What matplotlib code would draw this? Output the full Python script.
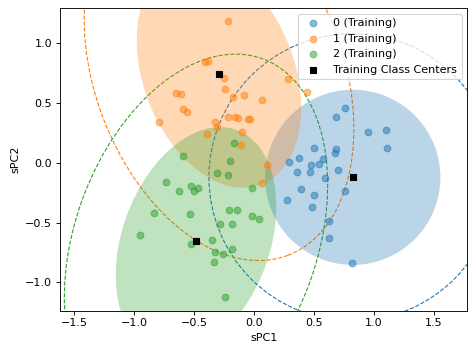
import matplotlib
matplotlib.use("Agg")
import matplotlib.pyplot as plt
import numpy as np
from matplotlib.patches import Ellipse

# training scores, class 0
x0 = [0.760, 0.682, 0.949, 1.100, 0.497, 0.687, 0.680, 1.114, 0.374, 0.290,
      0.574, 0.476, 0.545, 0.359, 0.467, 0.701, 0.593, 0.394, 0.498, 0.762,
      0.275, 0.484, 0.629, 0.628, 0.818]
y0 = [0.461, 0.379, 0.255, 0.273, 0.120, 0.113, 0.077, 0.120, 0.038, 0.008,
      0.033, -0.019, -0.011, -0.079, -0.075, -0.061, -0.130, -0.220, -0.272, -0.238,
      -0.312, -0.373, -0.490, -0.633, -0.840]

# class 1
x1 = [-0.213, -0.409, -0.386, -0.248, -0.242, -0.654, -0.609, -0.173, -0.083, 0.064,
      -0.590, -0.562, -0.790, -0.326, -0.215, -0.159, -0.136, -0.053, -0.031, -0.311,
      -0.395, -0.103, -0.109, 0.286, 0.440, 0.111, 0.069]
y1 = [1.180, 0.844, 0.852, 0.710, 0.613, 0.585, 0.571, 0.546, 0.566, 0.524,
      0.449, 0.421, 0.340, 0.340, 0.384, 0.384, 0.371, 0.365, 0.361, 0.296,
      0.240, 0.259, 0.148, 0.699, 0.593, -0.019, -0.172]

# class 2
x2 = [-0.167, -0.593, -0.200, -0.309, -0.221, -0.735, -0.626, -0.523, -0.499, -0.467,
      -0.019, -0.832, -0.538, -0.209, -0.142, -0.019, 0.044, -0.280, -0.180, -0.952,
      -0.526, -0.348, -0.326, -0.261, -0.180, -0.334, -0.242]
y2 = [0.167, 0.052, 0.014, -0.082, -0.099, -0.165, -0.236, -0.196, -0.235, -0.209,
      -0.209, -0.423, -0.429, -0.393, -0.393, -0.443, -0.469, -0.515, -0.510, -0.602,
      -0.681, -0.646, -0.744, -0.763, -0.723, -0.827, -1.119]

labels = ["0 (Training)", "1 (Training)", "2 (Training)"]
colors = ["C0", "C1", "C2"]

# class centers and ellipse shapes (outer boundary: semi minor, semi major, angle)
centers_x = [0.824, -0.292, -0.484]
centers_y = [-0.122, 0.741, -0.654]
outer_w = [1.20, 1.035, 1.01]
outer_h = [1.20, 1.62, 1.62]
angles = [0.0, 20.8, -20.0]
inner_scale = 1.0 / 1.64

fig = plt.figure(figsize=(474 / 80, 354 / 80), dpi=80)
ax = fig.add_axes([60 / 474, 43.3 / 354, 407.3 / 474, 302.7 / 354])

for i in range(3):
    c = (centers_x[i], centers_y[i])
    ax.add_patch(Ellipse(c, 2 * outer_w[i], 2 * outer_h[i], angle=angles[i],
                         fill=False, edgecolor=colors[i], linestyle="--", lw=1.0, zorder=1))
for i in range(3):
    c = (centers_x[i], centers_y[i])
    ax.add_patch(Ellipse(c, 2 * outer_w[i] * inner_scale, 2 * outer_h[i] * inner_scale,
                         angle=angles[i], facecolor=colors[i], edgecolor="none",
                         alpha=0.3, zorder=1))

for xs, ys, lab, col in zip([x0, x1, x2], [y0, y1, y2], labels, colors):
    ax.scatter(xs, ys, color=col, alpha=0.5, label=lab, zorder=2)

ax.scatter(centers_x, centers_y, color="black", marker="s", label="Training Class Centers", zorder=3)

ax.set_xlim(-1.619, 1.780)
ax.set_ylim(-1.236, 1.292)
ax.set_xlabel("sPC1")
ax.set_ylabel("sPC2")
ax.legend(loc="upper right")

fig.savefig("out.png", dpi=80)
